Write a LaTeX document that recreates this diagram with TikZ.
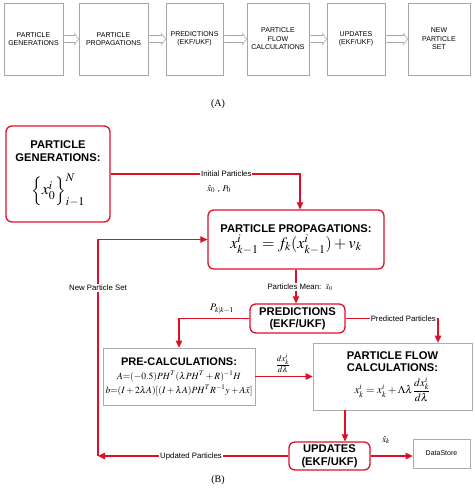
\documentclass[tikz,border=0pt]{standalone}
\usepackage{mathptmx}
\usepackage{fontspec}
\setmainfont{Liberation Sans}
\newfontfamily\capfont{Liberation Serif}
\usetikzlibrary{arrows.meta,calc,shadows}
\definecolor{rd}{RGB}{222,16,40}
\begin{document}
\begin{tikzpicture}[x=1pt,y=-1pt,
  aboxA/.style={draw=gray!70, line width=0.8pt, fill=white, align=center,
    font=\fontsize{7}{8.5}\selectfont, inner sep=1pt,
    drop shadow={shadow xshift=0.9pt, shadow yshift=-0.9pt, fill=gray!45}},
  rbox/.style={draw=rd, line width=1.3pt, rounded corners=6pt, fill=white, align=center,
    font=\bfseries\fontsize{11.2}{12.5}\selectfont, inner sep=2pt},
  gbox/.style={draw=gray!65, line width=0.7pt, fill=white, align=center, inner sep=1pt,
    drop shadow={shadow xshift=0.9pt, shadow yshift=-0.9pt, fill=gray!45}},
  rarrow/.style={draw=rd, line width=1.1pt, -{Triangle[length=7pt,width=6.5pt]}},
  lbl/.style={font=\fontsize{7.8}{9}\selectfont, fill=white, inner sep=1pt},
  harrow/.style={draw=gray!70, line width=0.6pt, fill=white}
]
\useasboundingbox (0,0) rectangle (474,490);

% ---------- Part A ----------
\node[aboxA, minimum width=59pt, minimum height=72pt] (a1) at (33.5,39) {PARTICLE\\GENERATIONS};
\node[aboxA, minimum width=69pt, minimum height=72pt] (a2) at (113.5,39) {PARTICLE\\PROPAGATIONS};
\node[aboxA, minimum width=57pt, minimum height=72pt] (a3) at (194.5,39) {PREDICTIONS\\(EKF/UKF)};
\node[aboxA, minimum width=62pt, minimum height=72pt] (a4) at (278,39) {PARTICLE\\FLOW\\CALCULATIONS};
\node[aboxA, minimum width=58pt, minimum height=72pt] (a5) at (356,39) {UPDATES\\(EKF/UKF)};
\node[aboxA, minimum width=62pt, minimum height=72pt] (a6) at (439,39) {NEW\\PARTICLE\\SET};

\foreach \p/\q in {a1/a2,a2/a3,a3/a4,a4/a5,a5/a6}{
  \draw[harrow] ($(\p.east)+(0.9,-3.5)$) -- ($(\q.west)+(-4,-3.5)$) -- ($(\q.west)+(-4,-5.5)$)
    -- (\q.west) -- ($(\q.west)+(-4,5.5)$) -- ($(\q.west)+(-4,3.5)$) -- ($(\p.east)+(0.9,3.5)$);
}
\node[font=\capfont\fontsize{10}{11}\selectfont] (capA) at (218,104) {(A)};

% ---------- Part B ----------
\node[rbox, minimum width=104pt, minimum height=96pt] (gen) at (58,174)
  {PARTICLE\\GENERATIONS:\\[11pt]\normalfont\fontsize{16}{16}\selectfont $\Big\{x_0^i\Big\}_{i-1}^{N}$};
\node[rbox, minimum width=176pt, minimum height=59pt] (prop) at (296,239.5)
  {PARTICLE PROPAGATIONS:\\[1pt]\normalfont\fontsize{16}{18}\selectfont $x_{k-1}^i = f_k(x_{k-1}^i)+v_k$};
\node[rbox, minimum width=95pt, minimum height=29pt] (pred) at (297.5,318.5) {PREDICTIONS\\(EKF/UKF)};
\node[gbox, minimum width=152pt, minimum height=57pt, font=\fontsize{9.5}{14}\selectfont] (pre) at (179,376.5)
  {{\bfseries\fontsize{11}{12}\selectfont PRE-CALCULATIONS:}\\
   $A{=}(-0.5)PH^T(\lambda PH^T+R)^{-1}H$\\
   $b{=}(I+2\lambda A)[(I+\lambda A)PH^TR^{-1}y+A\bar{x}]$};
\node[gbox, minimum width=159pt, minimum height=67pt, font=\bfseries\fontsize{11.2}{12.5}\selectfont] (flow) at (392.5,376.5)
  {PARTICLE FLOW\\CALCULATIONS:\\[4pt]\normalfont\fontsize{11}{12}\selectfont $x_k^i = x_k^i + \Lambda\lambda{\displaystyle\frac{dx_k^i}{d\lambda}}$};
\node[rbox, minimum width=81pt, minimum height=28pt] (upd) at (329.5,456) {UPDATES\\(EKF/UKF)};
\node[gbox, minimum width=57pt, minimum height=29pt, font=\fontsize{7}{8}\selectfont] (ds) at (441.5,453.5) {DataStore};

% connectors
\draw[rarrow] (gen.east) -| ([xshift=4pt]prop.north);
\node[lbl, anchor=west] (lInit) at (200,174) {Initial Particles};
\node[font=\fontsize{9}{10}\selectfont] (lx0) at (219,189) {$\hat{x}_0$ , $P_0$};

\draw[rarrow] (prop.south) -- (prop.south |- pred.north);
\node[lbl] (lMean) at (300,287) {Particles Mean:\ \ $\bar{x}_0$};

\draw[rarrow] (pred.west) -| (pre.north);
\node[font=\fontsize{10}{11}\selectfont] (lP) at (222,309) {$P_{k|k-1}$};

\draw[rarrow] (pred.east) -| ([xshift=45.5pt]flow.north);
\node[lbl, anchor=east] (lPred) at (437,319) {Predicted Particles};

\draw[rarrow] (pre.east) -- (flow.west);
\node[font=\fontsize{11.5}{12}\selectfont] (ld) at (283,363) {$\frac{dx_k^i}{d\lambda}$};

\coordinate (fx) at (345,0);
\draw[rarrow] (flow.south -| fx) -- (upd.north -| fx);

\draw[rarrow] (upd.east) -- (ds.west |- upd.east);
\node[font=\fontsize{9}{10}\selectfont] (lxk) at (386,440) {$\hat{x}_k$};

\coordinate (ret) at (98,456);
\draw[rarrow] (upd.west) -- (ret);
\node[lbl] (lUpd) at (191,456) {Updated Particles};
\draw[rarrow] (ret) |- (prop.west);
\node[lbl] (lNew) at (98,288) {New Particle Set};

\node[font=\capfont\fontsize{10}{11}\selectfont] (capB) at (218,480) {(B)};
\end{tikzpicture}
\end{document}
